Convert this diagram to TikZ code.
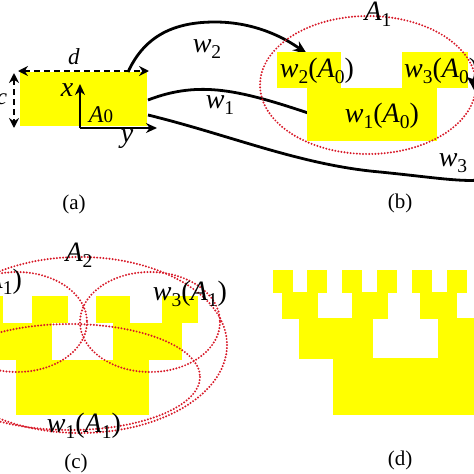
\documentclass[tikz,border=0pt]{standalone}
\usepackage{fontspec}
\setmainfont{Liberation Serif}
\usetikzlibrary{arrows.meta}
\definecolor{yel}{RGB}{255,255,0}
\definecolor{dotred}{RGB}{215,25,40}
\newcommand{\lsub}[1]{\raisebox{-0.22em}{\fontsize{19.5}{19.5}\selectfont #1}}
\newcommand{\wl}[1]{\textit{w}\lsub{#1}}
\tikzset{
  lbl/.style={font=\fontsize{28}{30}\selectfont, inner sep=0pt},
  plbl/.style={font=\fontsize{21}{24}\selectfont, inner sep=0pt},
  yb/.style={fill=yel, draw=none},
  wcurve/.style={line width=2.8pt, -{Stealth[length=14pt,width=11pt]}},
  dimarr/.style={line width=2.6pt, dash pattern=on 6pt off 4pt, {Stealth[length=10pt,width=10pt]}-{Stealth[length=10pt,width=10pt]}},
  axarrow/.style={line width=2.8pt, -{Stealth[length=11pt,width=10pt]}},
  dotell/.style={draw=dotred, line width=2.2pt, dash pattern=on 0pt off 3.1pt, line cap=round},
}
\begin{document}
\begin{tikzpicture}[x=1pt,y=-1pt]
\useasboundingbox (0,0) rectangle (474,474);
\clip (0,0) rectangle (474,474);

% ---------- panel (a) ----------
\fill[yb] (20,72) rectangle (147,126);
\coordinate (dL) at (18,71);
\coordinate (dR) at (149,71);
\draw[dimarr] (dL) -- (dR);
\coordinate (cT) at (14,73);
\coordinate (cB) at (14,128);
\draw[dimarr] (cT) -- (cB);
\node[lbl, font=\fontsize{23}{25}\selectfont] (cl) at (2,99) {\textit{c}};
\node[lbl, font=\fontsize{23}{25}\selectfont] (dl) at (74,57) {\textit{d}};
\coordinate (O) at (80,128);
\coordinate (xe) at (80,84);
\coordinate (ye) at (157,128);
\draw[axarrow] (O) -- (xe);
\draw[axarrow] (O) -- (ye);
\node[lbl] (xl) at (67,90) {\textit{x}};
\node[lbl, font=\fontsize{24}{26}\selectfont] (A0) at (101,115) {\textit{A}{\fontsize{19}{19}\selectfont 0}};
\node[lbl] (yl) at (127,139) {\textit{y}};

% connectors
\coordinate (s2) at (128,72);
\coordinate (e2) at (307,54);
\draw[wcurve] (s2) .. controls (145,35) and (175,22) .. (215,22)
                   .. controls (255,22) and (285,38) .. (e2);
\coordinate (s1) at (148,100);
\coordinate (e1) at (323,118);
\draw[wcurve] (s1) .. controls (200,80) and (240,90) .. (e1);
\coordinate (s3) at (148,115);
\coordinate (e3) at (467,77);
\draw[wcurve] (s3) .. controls (230,135) and (300,165) .. (380,172)
                   .. controls (430,177) and (460,182) .. (480,180)
                   .. controls (515,176) and (500,105) .. (e3);
\node[lbl] (w2l) at (207,49) {\wl{2}};
\node[lbl] (w1l) at (220,105) {\wl{1}};
\node[lbl] (w3l) at (453,163) {\wl{3}};
\node[plbl] (la) at (74,204) {(a)};

% ---------- panel (b) ----------
\fill[yb] (277,52) rectangle (341,88);
\fill[yb] (402,52) rectangle (468,88);
\fill[yb] (307,88) rectangle (437,141);
\node[lbl] (w2A0) at (317,71) {\wl{2}(\textit{A}\lsub{0})};
\node[lbl, anchor=west] (w3A0) at (404,71) {\wl{3}(\textit{A}\lsub{0})};
\node[lbl] (w1A0) at (382,116) {\wl{1}(\textit{A}\lsub{0})};
\draw[dotell] (368,85) ellipse [x radius=108, y radius=69];
\node[lbl] (A1) at (378,14) {\textit{A}\lsub{1}};
\node[plbl] (lb) at (400,203) {(b)};

% ---------- panel (c) ----------
\fill[yb] (-31,296) rectangle (3,323);
\fill[yb] (32,296) rectangle (68,323);
\fill[yb] (96,296) rectangle (130,323);
\fill[yb] (162,296) rectangle (198,323);
\fill[yb] (-17,323) rectangle (52,360);
\fill[yb] (113,323) rectangle (182,360);
\fill[yb] (16,360) rectangle (149,415);
\draw[dotell] (80,345) ellipse [x radius=147, y radius=88];
\draw[dotell] (150,322) ellipse [x radius=70, y radius=50];
\draw[dotell] (17,322) ellipse [x radius=70, y radius=50];
\draw[dotell] (70,377) ellipse [x radius=130, y radius=53];
\node[lbl] (A2) at (79,255) {\textit{A}\lsub{2}};
\node[lbl] (w3A1) at (190,294) {\wl{3}(\textit{A}\lsub{1})};
\node[lbl] (w2A1) at (-15,282) {\wl{2}(\textit{A}\lsub{1})};
\node[lbl] (w1A1) at (84,426) {\wl{1}(\textit{A}\lsub{1})};
\node[plbl] (lc) at (76,463) {(c)};

% ---------- panel (d) ----------
\foreach \a/\b in {273/293,307/327,342/362,377/397,412/432,447/467}
  \fill[yb] (\a,270) rectangle (\b,292.5);
\foreach \a/\b in {282/318,352/388,420/457}
  \fill[yb] (\a,292) rectangle (\b,318.5);
\fill[yb] (299,318) rectangle (373,358.5);
\fill[yb] (438,318) rectangle (480,358.5);
\fill[yb] (333,358) rectangle (480,415);
\node[plbl] (ld) at (400,460) {(d)};
\end{tikzpicture}
\end{document}
